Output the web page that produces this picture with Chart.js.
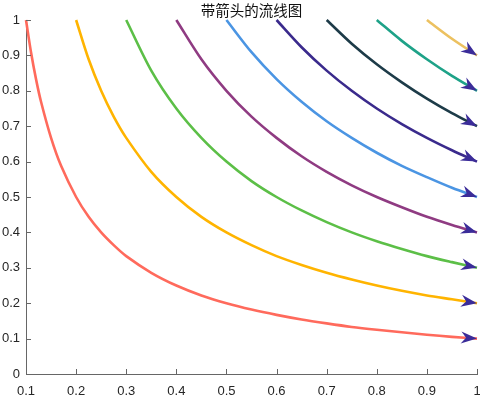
<!DOCTYPE html>
<html>
<head>
<meta charset="utf-8">
<script src="https://cdn.jsdelivr.net/npm/chart.js@4/dist/chart.umd.min.js"></script>
<style>
  html, body { margin: 0; padding: 0; background: #fff; }
  #wrap { width: 480px; height: 397px; }
</style>
</head>
<body>
<div id="wrap"><canvas id="flowChart"></canvas></div>
<script>
var chartTitle = '带箭头的流线图';

var xGrid = [0.1, 0.11, 0.12, 0.13, 0.15, 0.17, 0.2, 0.225, 0.25, 0.275, 0.3, 0.35, 0.4, 0.45, 0.5, 0.55, 0.6, 0.65, 0.7, 0.75, 0.8, 0.85, 0.9, 0.95, 1.0];

// y values for each line (null = line not started yet)
var line1 = [1, 0.909, 0.833, 0.769, 0.667, 0.588, 0.5, 0.444, 0.4, 0.364, 0.333, 0.286, 0.25, 0.222, 0.2, 0.182, 0.167, 0.154, 0.143, 0.133, 0.125, 0.118, 0.111, 0.105, 0.1];
var line2 = [null, null, null, null, null, null, 1, 0.889, 0.8, 0.727, 0.667, 0.571, 0.5, 0.444, 0.4, 0.364, 0.333, 0.308, 0.286, 0.267, 0.25, 0.235, 0.222, 0.211, 0.2];
var line3 = [null, null, null, null, null, null, null, null, null, null, 1, 0.857, 0.75, 0.667, 0.6, 0.545, 0.5, 0.462, 0.429, 0.4, 0.375, 0.353, 0.333, 0.316, 0.3];
var line4 = [null, null, null, null, null, null, null, null, null, null, null, null, 1, 0.889, 0.8, 0.727, 0.667, 0.615, 0.571, 0.533, 0.5, 0.471, 0.444, 0.421, 0.4];
var line5 = [null, null, null, null, null, null, null, null, null, null, null, null, null, null, 1, 0.909, 0.833, 0.769, 0.714, 0.667, 0.625, 0.588, 0.556, 0.526, 0.5];
var line6 = [null, null, null, null, null, null, null, null, null, null, null, null, null, null, null, null, 1, 0.923, 0.857, 0.8, 0.75, 0.706, 0.667, 0.632, 0.6];
var line7 = [null, null, null, null, null, null, null, null, null, null, null, null, null, null, null, null, null, null, 1, 0.933, 0.875, 0.824, 0.778, 0.737, 0.7];
var line8 = [null, null, null, null, null, null, null, null, null, null, null, null, null, null, null, null, null, null, null, null, 1, 0.941, 0.889, 0.842, 0.8];
var line9 = [null, null, null, null, null, null, null, null, null, null, null, null, null, null, null, null, null, null, null, null, null, null, 1, 0.947, 0.9];

var xTicks = [0.1, 0.2, 0.3, 0.4, 0.5, 0.6, 0.7, 0.8, 0.9, 1];
var yTicks = [0, 0.1, 0.2, 0.3, 0.4, 0.5, 0.6, 0.7, 0.8, 0.9, 1];

var lines = [line1, line2, line3, line4, line5, line6, line7, line8, line9];
var lineColors = ['#ff6a5c', '#ffb400', '#5cbf47', '#8f3b82', '#4b95e3', '#3a2a8c', '#1d3b48', '#1ea288', '#ecc160'];
var arrowColor = '#3b2c99';

function toPoints(ys) {
    var pts = [];
    ys.forEach(function(y, i) {
        if (y !== null) pts.push({ x: xGrid[i], y: y });
    });
    return pts;
}

var datasets = lines.map(function(ys, i) {
    return {
        data: toPoints(ys),
        borderColor: lineColors[i],
        borderWidth: 2.6,
        pointRadius: 0,
        showLine: true,
        tension: 0.3,
        clip: false
    };
});

// arrowheads at the end of each line, inward ticks, title over the axes
var arrowPlugin = {
    id: 'arrows',
    afterDatasetsDraw: function(chart) {
        var ctx = chart.ctx;
        var xs = chart.scales.x, ys = chart.scales.y;
        ctx.save();
        chart.data.datasets.forEach(function(ds) {
            var n = ds.data.length;
            var a = ds.data[n - 2], b = ds.data[n - 1];
            var x0 = xs.getPixelForValue(a.x), y0 = ys.getPixelForValue(a.y);
            var x1 = xs.getPixelForValue(b.x), y1 = ys.getPixelForValue(b.y);
            var ang = Math.atan2(y1 - y0, x1 - x0);
            var len = 16, half = 6, notch = 11;
            ctx.save();
            ctx.translate(x1, y1);
            ctx.rotate(ang);
            ctx.beginPath();
            ctx.moveTo(0, 0);
            ctx.lineTo(-len, -half);
            ctx.lineTo(-notch, 0);
            ctx.lineTo(-len, half);
            ctx.closePath();
            ctx.fillStyle = arrowColor;
            ctx.fill();
            ctx.restore();
        });

        var area = chart.chartArea;
        ctx.strokeStyle = '#666';
        ctx.lineWidth = 1;
        ctx.beginPath();
        xTicks.forEach(function(v) {
            var px = Math.round(xs.getPixelForValue(v)) + 0.5;
            ctx.moveTo(px, area.bottom);
            ctx.lineTo(px, area.bottom - 5);
        });
        yTicks.forEach(function(v) {
            var py = Math.round(ys.getPixelForValue(v)) + 0.5;
            ctx.moveTo(area.left, py);
            ctx.lineTo(area.left + 5, py);
        });
        ctx.stroke();

        // title centred over the plot area (like matlab)
        ctx.fillStyle = '#111';
        ctx.font = '14.5px "Noto Sans CJK SC"';
        ctx.textAlign = 'center';
        ctx.textBaseline = 'middle';
        ctx.fillText(chartTitle, (area.left + area.right) / 2, 10);
        ctx.restore();
    }
};

new Chart(document.getElementById('flowChart'), {
    type: 'scatter',
    data: { datasets: datasets },
    options: {
        responsive: true,
        maintainAspectRatio: false,
        animation: false,
        layout: { padding: { top: 20, right: 3, left: 0, bottom: 0 } },
        plugins: {
            legend: { display: false },
            tooltip: { enabled: false },
            title: { display: false }
        },
        scales: {
            x: {
                type: 'linear',
                min: 0.1,
                max: 1,
                afterBuildTicks: function(scale) {
                    scale.ticks = xTicks.map(function(v) { return { value: v }; });
                },
                afterFit: function(scale) {
                    scale.height = 23;
                    scale.paddingRight = 3;
                    scale.paddingLeft = 0;
                },
                grid: { display: false, drawTicks: false },
                border: { display: true, color: '#666', width: 1 },
                ticks: {
                    color: '#262626',
                    padding: 10,
                    maxRotation: 0,
                    font: { family: 'Liberation Sans', size: 13 },
                    callback: function(v) { return String(Number(v.toFixed(1))); }
                }
            },
            y: {
                min: 0,
                max: 1,
                afterBuildTicks: function(scale) {
                    scale.ticks = yTicks.map(function(v) { return { value: v }; });
                },
                afterFit: function(scale) {
                    scale.width = 26;
                    scale.paddingTop = 0;
                },
                grid: { display: false, drawTicks: false },
                border: { display: true, color: '#666', width: 1 },
                ticks: {
                    color: '#262626',
                    padding: 6,
                    font: { family: 'Liberation Sans', size: 13 },
                    callback: function(v) { return String(Number(v.toFixed(1))); }
                }
            }
        }
    },
    plugins: [arrowPlugin]
});
</script>
</body>
</html>
